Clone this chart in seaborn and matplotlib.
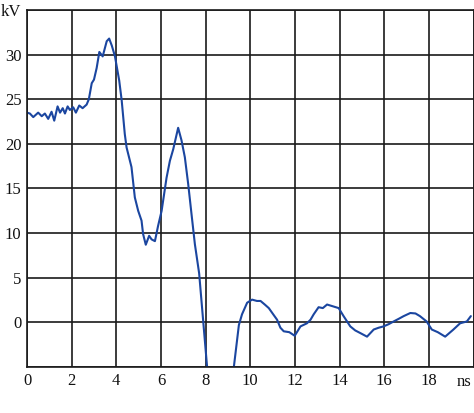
import matplotlib
matplotlib.use("Agg")
import matplotlib.pyplot as plt
import seaborn as sns
import numpy as np
import pandas as pd

# time (ns) and voltage (kV)
t_ns = [0.0, 0.13, 0.28, 0.5, 0.66, 0.8, 0.95, 1.1, 1.22, 1.37, 1.48, 1.6, 1.7, 1.82, 1.92,
        2.07, 2.19, 2.34, 2.49, 2.67, 2.77, 2.9, 3.0, 3.12, 3.24, 3.39, 3.57, 3.68, 3.8, 3.94,
        4.13, 4.24, 4.38, 4.46, 4.68, 4.83, 4.98, 5.13, 5.2, 5.32, 5.47, 5.58, 5.73, 5.87, 6.03,
        6.25, 6.4, 6.55, 6.77, 6.92, 7.07, 7.22, 7.37, 7.52, 7.71, 8.07, 8.6, 9.26, 9.49, 9.63,
        9.86, 10.08, 10.3, 10.46, 10.65, 10.83, 11.0, 11.2, 11.35, 11.5, 11.75, 11.99, 12.25,
        12.54, 12.7, 12.84, 13.06, 13.25, 13.44, 13.7, 13.96, 14.18, 14.48, 14.7, 14.93,
        15.23, 15.53, 15.75, 15.97, 16.2, 16.42, 16.65, 16.87, 17.17, 17.4, 17.6, 17.9,
        18.13, 18.4, 18.73, 19.1, 19.4, 19.7, 19.88]
v_kv = [23.5, 23.4, 23.0, 23.5, 23.1, 23.4, 22.8, 23.6, 22.6, 24.2, 23.5, 24.0, 23.4, 24.2, 23.8,
        24.1, 23.5, 24.3, 24.0, 24.4, 25.0, 26.8, 27.2, 28.5, 30.3, 29.8, 31.5, 31.8, 31.0, 29.8,
        27.1, 24.9, 21.1, 19.6, 17.4, 14.0, 12.5, 11.4, 9.9, 8.7, 9.7, 9.3, 9.1, 10.8, 12.5,
        16.2, 18.1, 19.4, 21.8, 20.4, 18.5, 15.5, 12.1, 8.75, 5.5, -5.1, -12.0, -5.1, -0.3, 0.9,
        2.2, 2.55, 2.4, 2.4, 2.0, 1.6, 1.0, 0.3, -0.6, -1.0, -1.1, -1.5, -0.45,
        -0.1, 0.3, 0.9, 1.7, 1.6, 2.0, 1.8, 1.6, 0.7, -0.45, -0.9, -1.2,
        -1.6, -0.8, -0.6, -0.45, -0.2, 0.1, 0.4, 0.7, 1.05, 1.0, 0.7, 0.1,
        -0.8, -1.1, -1.6, -0.8, -0.1, 0.1, 0.7]

x_ticks = [0, 2, 4, 6, 8, 10, 12, 14, 16, 18]
y_ticks = [0, 5, 10, 15, 20, 25, 30, 35]
y_tick_labels = ["0", "5", "10", "15", "20", "25", "30", "kV"]

sns.set_style("white")
plt.rcParams['font.family'] = ['Liberation Serif', 'DejaVu Serif']

df = pd.DataFrame({"t": t_ns, "v": v_kv})

fig = plt.figure(figsize=(4.74, 4.13), dpi=100)
ax = fig.add_axes([27/474, 1 - 367/413, 1 - 27/474 - 0.001, (367 - 10)/413])

sns.lineplot(data=df, x="t", y="v", ax=ax, color="#1b46a0", linewidth=1.5)

ax.set_xlim(0, 20)
ax.set_ylim(-5, 35)
ax.set_xticks(np.arange(0, 21, 2))
ax.set_yticks(np.arange(-5, 36, 5))
ax.grid(True, color="#1a1a1a", linewidth=1.2)
ax.set_xticklabels([str(v) if v in x_ticks else "" for v in range(0, 21, 2)])
ax.set_yticklabels([y_tick_labels[y_ticks.index(v)] if v in y_ticks else "" for v in range(-5, 36, 5)])
ax.tick_params(axis="both", length=0, labelsize=12, labelcolor="#111111", pad=4)
ax.set_xlabel("")
ax.set_ylabel("")
for s in ax.spines.values():
    s.set_color("#1a1a1a")
    s.set_linewidth(1.2)
ax.text(19.25, -5.8, "ns", ha="left", va="top", fontsize=12, color="#111111")

fig.savefig("out.png", dpi=100)
